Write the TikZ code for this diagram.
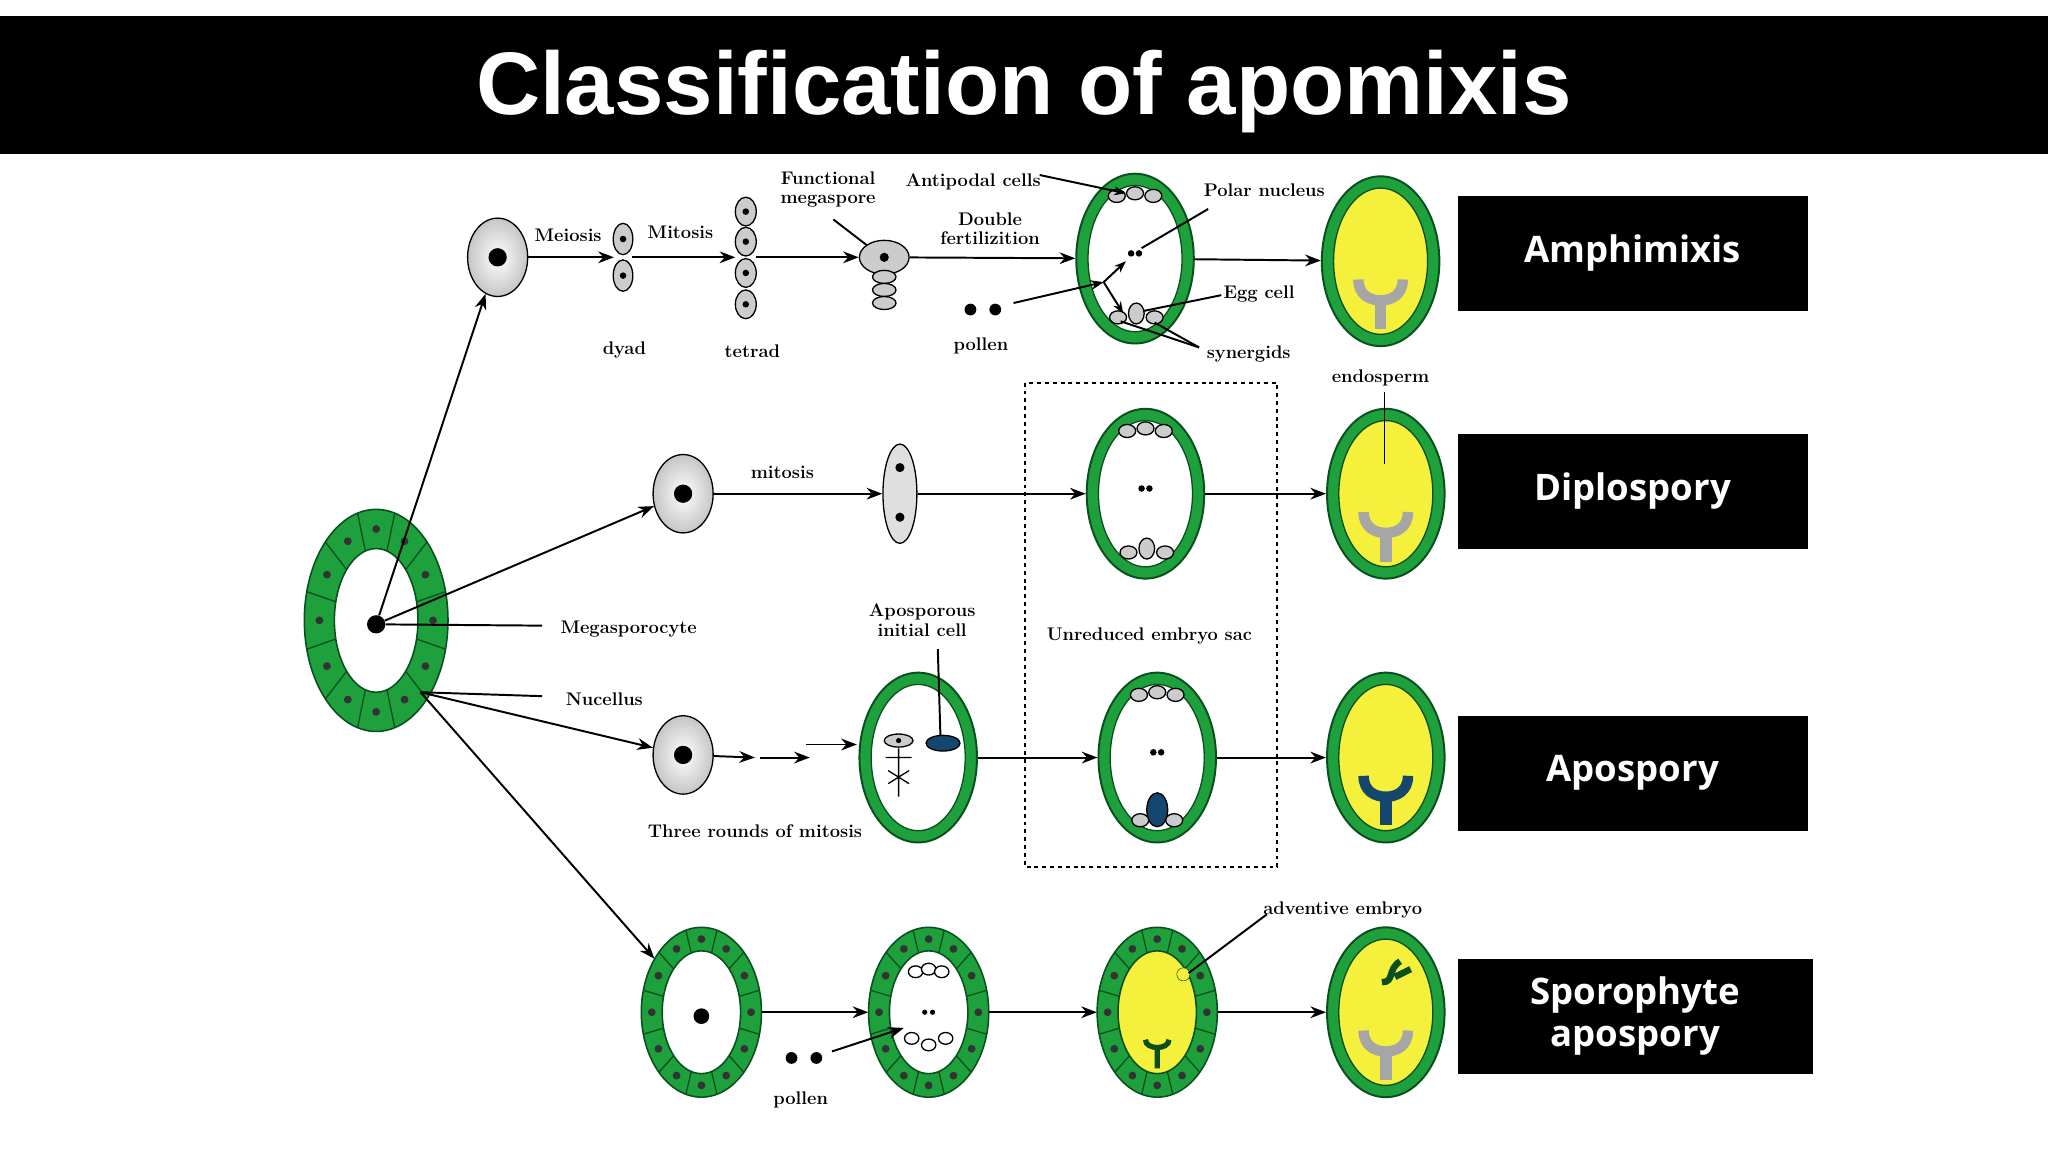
\documentclass[tikz,border=0pt]{standalone}
\usepackage{fontspec}
\newfontfamily\titlef{Liberation Sans}
\newfontfamily\boxf{Open Sans}
\usetikzlibrary{shapes.geometric,arrows.meta}
\definecolor{sgreen}{RGB}{30,160,60}
\definecolor{dgreen}{RGB}{10,80,30}
\definecolor{syel}{RGB}{245,240,60}
\definecolor{sblue}{RGB}{20,70,110}
\tikzset{
 lab/.style={font=\fontsize{14}{15}\selectfont\bfseries, align=center, inner sep=1pt},
 arr/.style={-{Stealth[length=12pt,width=9pt]}, line width=1.5pt},
 ln/.style={line width=1.5pt},
 cell/.style={ellipse, draw=black, line width=1pt, inner color=white, outer color=gray!45, minimum width=46pt, minimum height=60pt, inner sep=0},
 sac/.style={ellipse, fill=sgreen, draw=dgreen, line width=1.5pt, minimum width=90pt, minimum height=130pt, inner sep=0},
 box/.style={fill=black, text=white, font=\boxf\bfseries\fontsize{28}{36}\selectfont, minimum width=268pt, minimum height=88pt, align=center, inner sep=0},
 sm/.style={ellipse, draw, line width=1pt, fill=gray!40, minimum width=13pt, minimum height=10pt, inner sep=0},
 dot/.style={circle, fill=black, inner sep=0, minimum size=#1},
 pics/sacin/.style={code={\filldraw[fill=white, draw=dgreen, line width=1pt] (0,0) ellipse [x radius=36pt, y radius=56pt];}},
 pics/seedin/.style={code={
   \filldraw[fill=syel, draw=dgreen, line width=1pt] (0,0) ellipse [x radius=36pt, y radius=56pt];
   \draw[line width=9pt, draw=#1] (0,52) -- (0,28);
   \draw[line width=8pt, draw=#1] (-17,14) .. controls (-17,26) and (-8,30) .. (0,30) .. controls (8,30) and (17,26) .. (17,14);}},
 pics/ring/.style args={#1/#2/#3/#4/#5}{code={
   \fill[sgreen] (0,0) ellipse [x radius=#1pt, y radius=#2pt];
   \draw[dgreen, line width=1.2pt] (0,0) ellipse [x radius=#1pt, y radius=#2pt];
   \filldraw[fill=#5, draw=dgreen, line width=1.2pt] (0,0) ellipse [x radius=#3pt, y radius=#4pt];
   \foreach \a in {0,30,...,330}{
     \draw[dgreen, line width=1pt] ({#3*cos(\a+15)},{#4*sin(\a+15)}) -- ({#1*cos(\a+15)},{#2*sin(\a+15)});
     \fill[black!80] ({(#1+#3)/2*cos(\a)},{(#2+#4)/2*sin(\a)}) circle (3pt);}
 }},
}
\begin{document}
\begin{tikzpicture}[x=1pt,y=-1pt]
\useasboundingbox (0,0) rectangle (1568,882);
\fill[white] (0,0) rectangle (1568,882);
% title
\node[fill=black, minimum width=1568pt, minimum height=106pt, inner sep=0, anchor=north west] (bar) at (0,12) {};
\node[text=white, font=\titlef\bfseries\fontsize{68}{80}\selectfont] (title) at (784,70) {Classification of apomixis};
% boxes
\node[box] (b1) at (1250,194) {Amphimixis};
\node[box] (b2) at (1250,376) {Diplospory};
\node[box] (b3) at (1250,592) {Apospory};
\node[box, minimum width=272pt] (b4) at (1252,778) {Sporophyte\\[-4pt]apospory};
% dashed box
\draw[dashed, line width=1.5pt] (785,293) rectangle (978,664);
\node[lab] (unr) at (880,487) {Unreduced embryo sac};

% nucellus
\pic at (288,475) {ring=55/85/32/55/white};
\node[dot=14pt] (nc) at (288,478) {};
\coordinate (nu) at (322,530);
\node[lab, anchor=west] (megl) at (428,482) {Megasporocyte};
\node[lab, anchor=west] (nucl) at (432,535) {Nucellus};
\draw[ln] (nc) -- (415,479);
\draw[ln] (nu) -- (415,533);

% ---------- Row 1
\node[cell] (c1) at (381,197) {};
\node[dot=14pt] at (381,197) {};
\draw[arr] (nc) -- (c1);
\node[lab] (meil) at (435,180) {Meiosis};
\node[sm, minimum width=15pt, minimum height=24pt] (d1) at (477,183) {};
\node[sm, minimum width=15pt, minimum height=24pt] (d2) at (477,211) {};
\node[dot=5pt] at (477,183) {}; \node[dot=5pt] at (477,211) {};
\coordinate (dy) at (470,197);
\draw[arr] (c1) -- (dy);
\node[lab] (dyl) at (478,268) {dyad};
\node[lab] (mitl) at (521,178) {Mitosis};
\foreach \y [count=\i] in {162,185,209,233}{
  \node[sm, minimum width=16pt, minimum height=22pt] (t\i) at (571,\y) {};
  \node[dot=5pt] at (571,\y) {};}
\draw[arr] (484,197) -- (563,197);
\node[lab] (tetl) at (576,269) {tetrad};
\node[sm, minimum width=38pt, minimum height=26pt] (fm) at (677,197) {};
\node[dot=7pt] at (677,197) {};
\foreach \y in {212,222,232} \node[sm, minimum width=18pt, minimum height=10pt] at (677,\y) {};
\draw[arr] (579,197) -- (fm);
\node[lab] (fml) at (634,145) {Functional\\megaspore};
\draw[ln] (638,168) -- (664,188);
\node[sac] (s1) at (869,198) {};
\pic at (869,198) {sacin};
\foreach \x/\y in {855/150,869/148,883/150} \node[sm] at (\x,\y) {};
\fill (866,194) circle (2.5pt) (872,194) circle (2.5pt);
\node[sm, minimum width=12pt, minimum height=16pt] (egg1) at (870,240) {};
\node[sm] (sy1) at (856,243) {}; \node[sm] (sy2) at (884,243) {};
\draw[arr] (fm) -- (s1);
\node[lab] (dfl) at (758,175) {Double\\fertilizition};
\node[dot=9pt] (p1) at (743,237) {}; \node[dot=9pt] (p2) at (762,237) {};
\node[lab] (pl1) at (751,265) {pollen};
\draw[ln, -{Stealth[length=10pt]}] (776,232) -- (845,216);
\draw[ln, -{Stealth[length=9pt]}] (845,216) -- (862,200);
\draw[ln, -{Stealth[length=9pt]}] (845,216) -- (860,240);
\node[lab] (antl) at (745,139) {Antipodal cells};
\draw[ln, -{Stealth[length=9pt]}] (796,134) -- (862,148);
\node[lab] (poll) at (968,146) {Polar nucleus};
\draw[ln] (925,160) -- (874,190);
\node[lab] (eggl) at (964,225) {Egg cell};
\draw[ln] (935,226) -- (876,238);
\node[lab] (synl) at (956,271) {synergids};
\draw[ln] (918,266) -- (858,246);
\draw[ln] (918,266) -- (884,247);
\node[sac] (e1) at (1057,200) {};
\pic at (1057,200) {seedin=gray!70};
\draw[arr] (s1) -- (e1);

% ---------- Row 2
\node[cell] (c2) at (523,378) {};
\node[dot=14pt] at (523,378) {};
\draw[arr] (nc) -- (c2);
\node[lab] (mit2) at (599,362) {mitosis};
\node[sm, minimum width=26pt, minimum height=76pt, fill=gray!25] (el2) at (689,378) {};
\node[dot=7pt] at (689,358) {}; \node[dot=7pt] at (689,396) {};
\draw[arr] (c2) -- (el2);
\node[sac] (s2) at (877,378) {};
\pic at (877,378) {sacin};
\foreach \x/\y in {863/330,877/328,891/330} \node[sm] at (\x,\y) {};
\fill (874,374) circle (2.5pt) (880,374) circle (2.5pt);
\node[sm, minimum width=12pt, minimum height=16pt] at (878,420) {};
\node[sm] at (864,423) {}; \node[sm] at (892,423) {};
\draw[arr] (el2) -- (s2);
\node[sac] (e2) at (1061,378) {};
\pic at (1061,378) {seedin=gray!70};
\draw[arr] (s2) -- (e2);
\node[lab] (endl) at (1057,289) {endosperm};
\draw[ln] (1060,300) -- (1060,355);

% ---------- Row 3
\node[cell] (c3) at (523,578) {};
\node[dot=14pt] at (523,578) {};
\draw[arr] (nu) -- (c3);
\draw[arr] (c3) -- (578,580);
\draw[arr] (582,580) -- (620,580);
\draw[arr] (617,570) -- (656,570);
\node[sac] (s3a) at (703,580) {};
\pic at (703,580) {sacin};
\node[sm, minimum width=26pt, minimum height=12pt, fill=sblue, draw=black] (ap) at (722,569) {};
\node[sm, minimum width=22pt, minimum height=10pt] at (688,567) {};
\node[dot=4pt] at (688,567) {};
\draw[line width=1pt] (688,573) -- (688,610) (678,580) -- (698,580) (680,590) -- (696,600) (696,590) -- (680,600);
\node[lab] (apl) at (706,475) {Aposporous\\initial cell};
\draw[ln] (718,497) -- (720,563);
\node[lab] (thrl) at (578,636) {Three rounds of mitosis};
\node[sac] (s3) at (886,580) {};
\pic at (886,580) {sacin};
\foreach \x/\y in {872/532,886/530,900/532} \node[sm] at (\x,\y) {};
\fill (883,576) circle (2.5pt) (889,576) circle (2.5pt);
\node[sm, minimum width=16pt, minimum height=26pt, fill=sblue] at (886,620) {};
\node[sm] at (873,628) {}; \node[sm] at (899,628) {};
\draw[arr] (s3a) -- (s3);
\node[sac] (e3) at (1061,580) {};
\pic at (1061,580) {seedin=sblue};
\draw[arr] (s3) -- (e3);

% ---------- Row 4
\node[ellipse, minimum width=92pt, minimum height=130pt, inner sep=0] (r1) at (537,775) {};
\pic at (537,775) {ring=46/65/30/47/white};
\node[dot=12pt] at (537,778) {};
\draw[arr] (nu) -- (r1);
\node[ellipse, minimum width=92pt, minimum height=130pt, inner sep=0] (r2) at (711,775) {};
\pic at (711,775) {ring=46/65/30/47/white};
\foreach \x/\y in {701/744,711/742,721/744,698/795,711/800,724/795}
  \node[sm, fill=white, minimum width=11pt, minimum height=9pt] at (\x,\y) {};
\fill (708,775) circle (2pt) (714,775) circle (2pt);
\draw[arr] (r1) -- (r2);
\node[dot=9pt] (p3) at (606,810) {}; \node[dot=9pt] (p4) at (625,810) {};
\node[lab] (pl2) at (613,842) {pollen};
\draw[arr] (637,805) -- (692,787);
\node[ellipse, minimum width=92pt, minimum height=130pt, inner sep=0] (r3) at (886,775) {};
\pic at (886,775) {ring=46/65/30/47/syel};
\draw[line width=4pt, dgreen] (886,818) -- (886,804) (877,796) .. controls (877,804) and (895,804) .. (895,796);
\filldraw[fill=syel, draw=dgreen] (906,746) circle (5pt);
\draw[arr] (r2) -- (r3);
\node[lab] (advl) at (1028,697) {adventive embryo};
\draw[ln] (970,700) -- (910,745);
\node[sac] (e4) at (1061,775) {};
\pic at (1061,775) {seedin=gray!70};
\draw[line width=5pt, dgreen] (1072,736) .. controls (1062,742) and (1068,752) .. (1058,752) (1068,748) -- (1080,742);
\draw[arr] (r3) -- (e4);
\end{tikzpicture}
\end{document}
